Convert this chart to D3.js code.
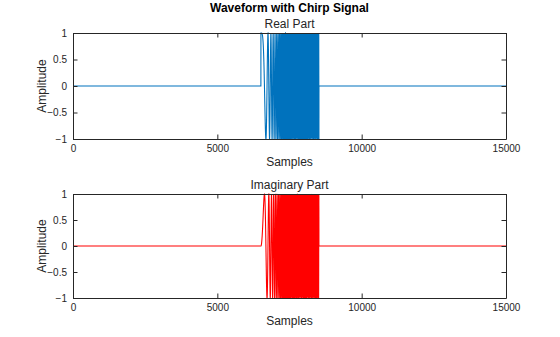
<!DOCTYPE html>
<html>
<head>
<meta charset="utf-8">
<script src="https://cdn.jsdelivr.net/npm/d3@7"></script>
<style>
  html, body { margin: 0; padding: 0; background: #fff; }
  svg { display: block; font-family: "Liberation Sans", Arial, Helvetica, sans-serif; }
</style>
</head>
<body>
<svg id="fig" width="560" height="337"></svg>
<script>
// Signal description: a quiet baseline with a linear up-chirp burst.
const totalSamples = 15000;
const chirpStartSample = 6510;   // burst switches on
const chirpEndSample = 8520;     // burst switches off
const firstHalfCycle = 173;      // samples from onset to the first phase of pi
const chirpAmplitude = 1;

// Axis ticks
const xTicks = [0, 5000, 10000, 15000];
const yTicks = [-1, -0.5, 0, 0.5, 1];

// Panels
const panels = [
  { title: "Real Part",      part: "re", color: "#0072BD", top: 33,  bottom: 139 },
  { title: "Imaginary Part", part: "im", color: "#FF0000", top: 194, bottom: 298 }
];

// Build the complex baseband samples
const sweepRate = 1 / (firstHalfCycle * firstHalfCycle);
const samples = d3.range(0, totalSamples + 1).map(n => {
  if (n < chirpStartSample || n > chirpEndSample) return { n, re: 0, im: 0 };
  const t = n - chirpStartSample;
  const phase = Math.PI * sweepRate * t * t;
  return { n, re: chirpAmplitude * Math.cos(phase), im: chirpAmplitude * Math.sin(phase) };
});

const svg = d3.select("#fig");
const ink = "#262626";
const left = 73, right = 506;

svg.append("text")
  .attr("x", (left + right) / 2).attr("y", 12)
  .attr("text-anchor", "middle")
  .attr("font-size", 12).attr("font-weight", "bold")
  .attr("fill", "#000")
  .text("Waveform with Chirp Signal");

panels.forEach((p, i) => {
  const x = d3.scaleLinear().domain([0, totalSamples]).range([left, right]);
  const y = d3.scaleLinear().domain([-1, 1]).range([p.bottom, p.top]);
  const g = svg.append("g");

  const clipId = "clip" + i;
  svg.append("clipPath").attr("id", clipId)
    .append("rect").attr("x", left).attr("y", p.top - 1)
    .attr("width", right - left).attr("height", p.bottom - p.top + 2);

  // waveform
  g.append("path")
    .datum(samples)
    .attr("clip-path", `url(#${clipId})`)
    .attr("fill", "none")
    .attr("stroke", p.color)
    .attr("stroke-width", 1.1)
    .attr("d", d3.line().x(d => x(d.n)).y(d => y(d[p.part])));

  const tickLen = 4.5;
  // bottom / top axes
  const bottomAxis = d3.axisBottom(x).tickValues(xTicks).tickFormat(d3.format("d"))
    .tickSizeInner(-tickLen).tickSizeOuter(0).tickPadding(6);
  const gb = g.append("g").attr("transform", `translate(0,${p.bottom})`).call(bottomAxis);
  const topAxis = d3.axisTop(x).tickValues(xTicks).tickFormat("")
    .tickSizeInner(-tickLen).tickSizeOuter(0);
  const gt = g.append("g").attr("transform", `translate(0,${p.top})`).call(topAxis);
  // left / right axes
  const leftAxis = d3.axisLeft(y).tickValues(yTicks).tickFormat(d3.format("~g"))
    .tickSizeInner(-tickLen).tickSizeOuter(0).tickPadding(6);
  const gl = g.append("g").attr("transform", `translate(${left},0)`).call(leftAxis);
  const rightAxis = d3.axisRight(y).tickValues(yTicks).tickFormat("")
    .tickSizeInner(-tickLen).tickSizeOuter(0);
  const gr = g.append("g").attr("transform", `translate(${right},0)`).call(rightAxis);

  [gb, gt, gl, gr].forEach(a => {
    a.selectAll("path.domain").attr("stroke", ink).attr("stroke-width", 1);
    a.selectAll(".tick line").attr("stroke", ink).attr("stroke-width", 1);
    a.selectAll("text").attr("fill", ink).attr("font-size", 10)
      .attr("font-family", "'Liberation Sans', Arial, sans-serif");
  });

  // panel title
  svg.append("text")
    .attr("x", (left + right) / 2).attr("y", p.top - 5)
    .attr("text-anchor", "middle")
    .attr("font-size", 12).attr("fill", ink)
    .text(p.title);

  // axis labels
  svg.append("text")
    .attr("x", (left + right) / 2).attr("y", p.bottom + 27)
    .attr("text-anchor", "middle")
    .attr("font-size", 12).attr("fill", ink)
    .text("Samples");
  svg.append("text")
    .attr("transform", `translate(46,${(p.top + p.bottom) / 2}) rotate(-90)`)
    .attr("text-anchor", "middle")
    .attr("font-size", 12).attr("fill", ink)
    .text("Amplitude");
});
</script>
</body>
</html>
